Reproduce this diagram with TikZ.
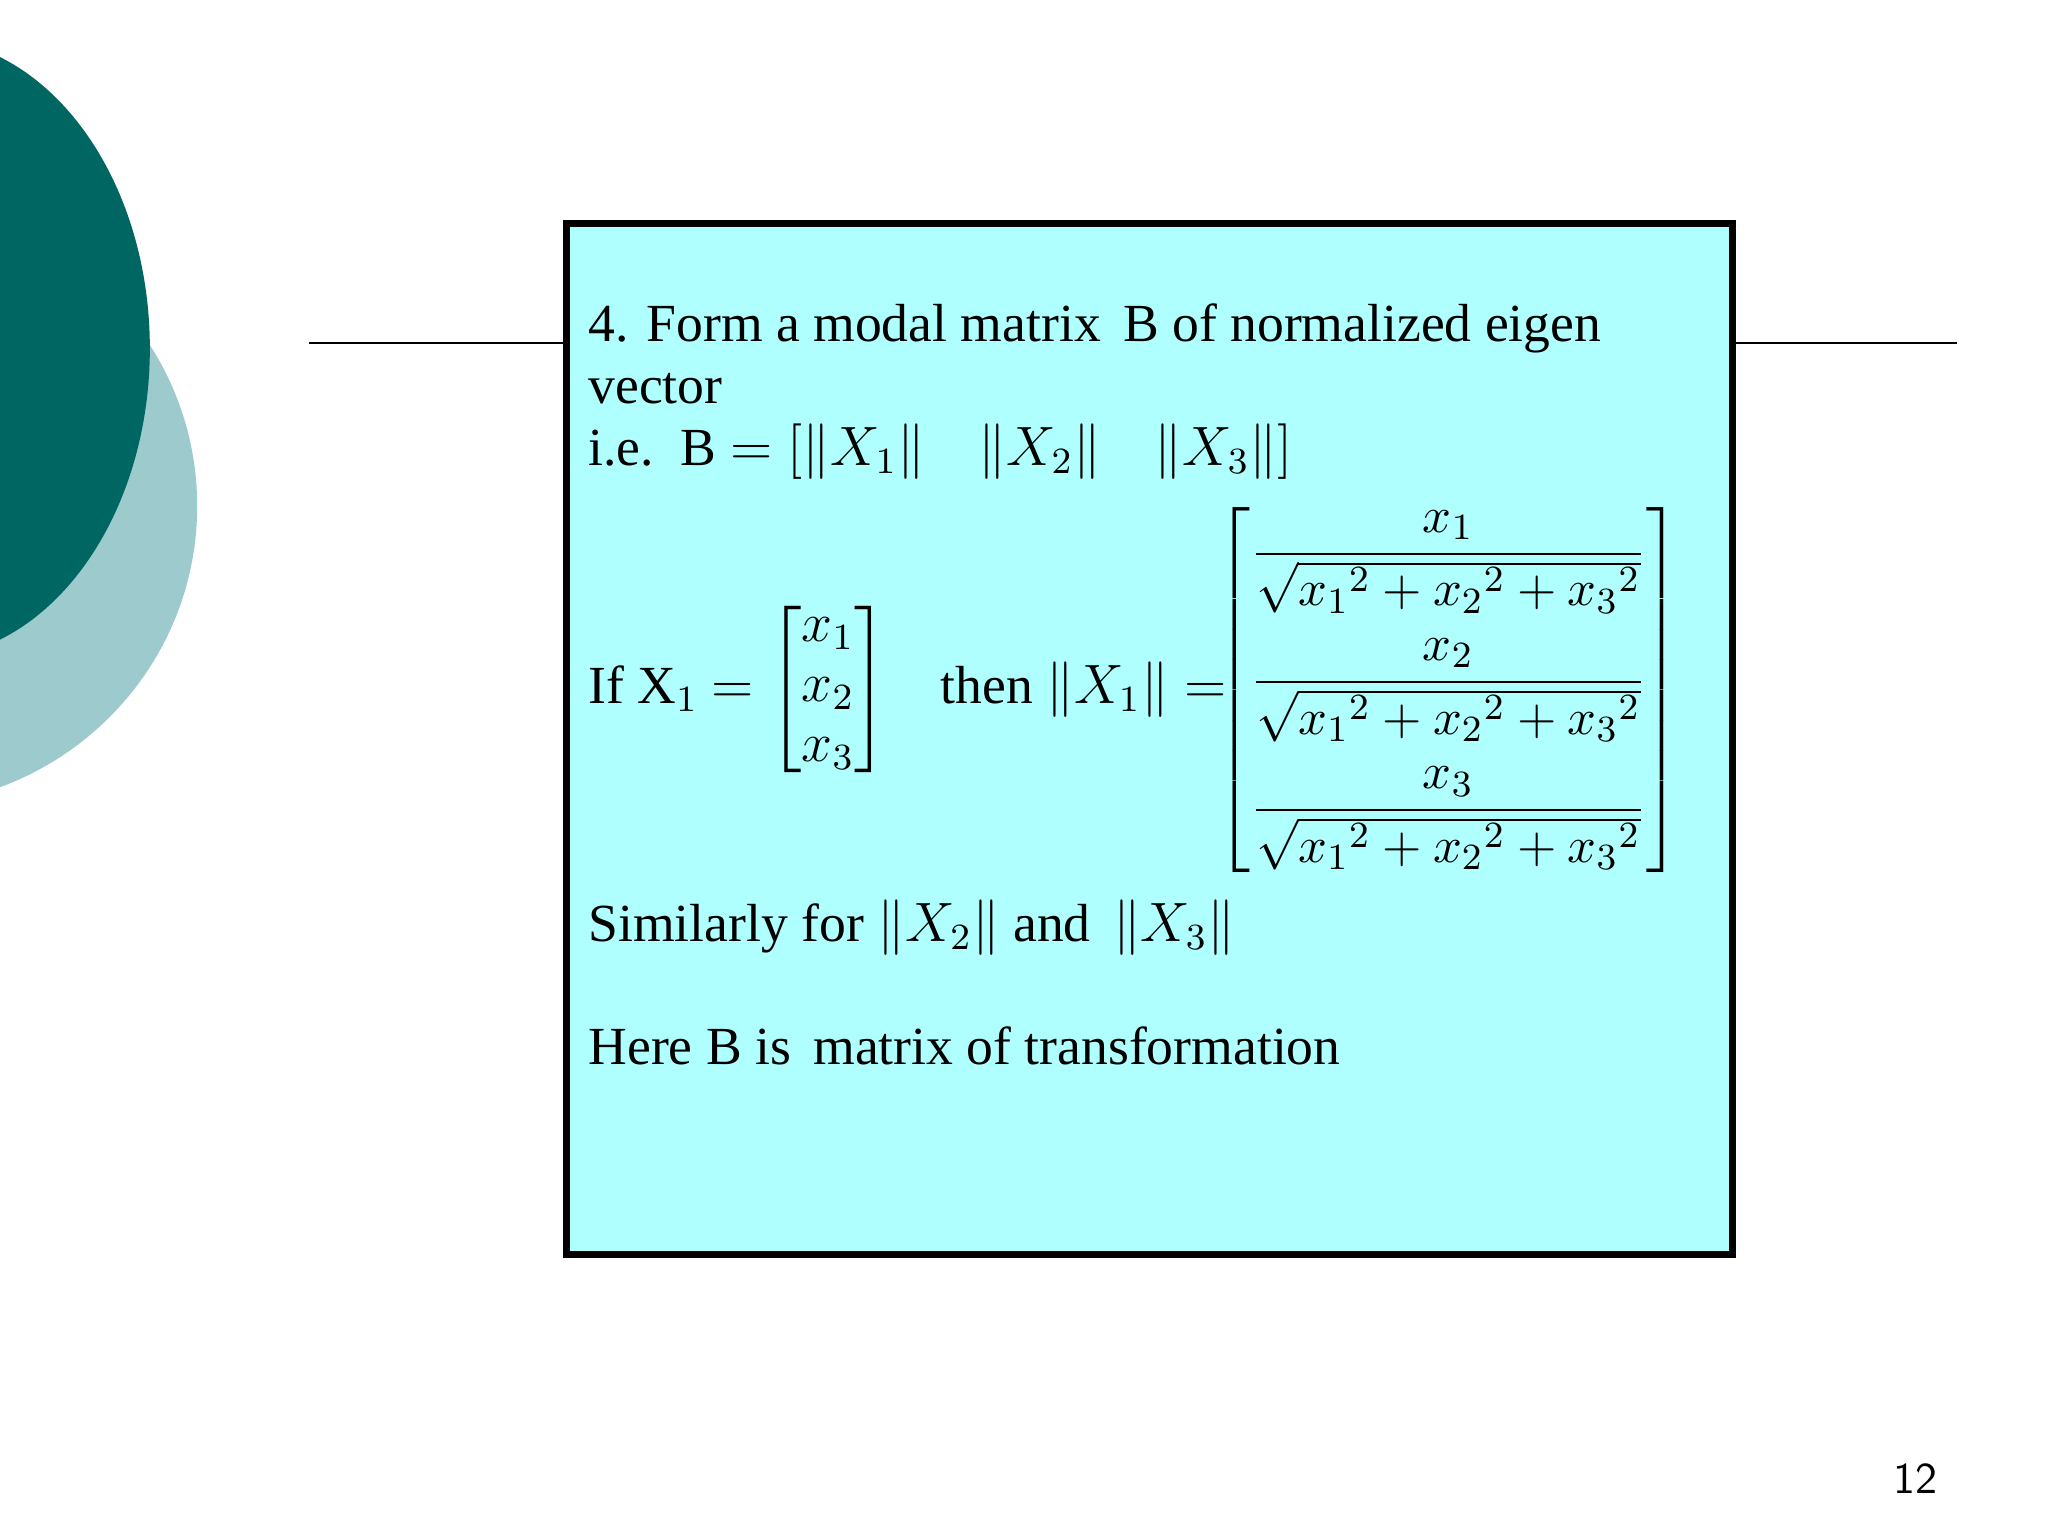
\documentclass[tikz,border=0pt]{standalone}
\usepackage{amsmath}
\usepackage{fontspec}
\setmainfont{Liberation Serif}
\begin{document}
\begin{tikzpicture}[x=0.01cm,y=-0.01cm,
  txt/.style={anchor=base west,inner sep=0,font=\fontsize{11.6}{13}\selectfont}]
\useasboundingbox (0,0) rectangle (1558,1166);
\fill[white] (0,0) rectangle (1558,1166);
\begin{scope}
\clip (0,0) rectangle (1558,1166);
\fill[fill={rgb,255:red,157;green,203;blue,205}] (-80,385) ellipse [x radius=230,y radius=228];
\fill[fill={rgb,255:red,0;green,102;blue,97}] (-60,265) ellipse [x radius=174,y radius=236];
\end{scope}
\draw[line width=1.5pt,fill={rgb,255:red,175;green,255;blue,255}] (431,170) rectangle (1318,954);
\coordinate (bl) at (431,261); \coordinate (br) at (1318,261);
\coordinate (l1) at (235,261); \coordinate (r1) at (1489,261);
\draw (l1) -- (bl);
\draw (br) -- (r1);
\node[txt] (t1) at (447,260) {4. Form a modal matrix\, B of normalized eigen};
\node[txt] (t2) at (447,307) {vector};
\node[txt] (t3) at (447,354) {i.e.\, B $=[\|X_1\|\quad\|X_2\|\quad\|X_3\|]$};
\node[txt] (t4) at (447,535) {If X$_1$ $=\begin{bmatrix}x_1\\x_2\\x_3\end{bmatrix}$\quad then $\|X_1\|=$};
\node[anchor=west,inner sep=0,font=\fontsize{11}{12}\selectfont] (m) at (925,525) {$\left[\begin{array}{@{}c@{}}\dfrac{x_1}{\sqrt{{x_1}^2+{x_2}^2+{x_3}^2}}\\[12pt]\dfrac{x_2}{\sqrt{{x_1}^2+{x_2}^2+{x_3}^2}}\\[12pt]\dfrac{x_3}{\sqrt{{x_1}^2+{x_2}^2+{x_3}^2}}\end{array}\right]$};
\node[txt] (t5) at (447,716) {Similarly for $\|X_2\|$ and\, $\|X_3\|$};
\node[txt] (t6) at (447,810) {Here B is\, matrix of transformation};
\node[anchor=base,inner sep=0,font=\fontsize{9.5}{11}\selectfont\sffamily] (pn) at (1457,1136) {12};
\end{tikzpicture}
\end{document}
